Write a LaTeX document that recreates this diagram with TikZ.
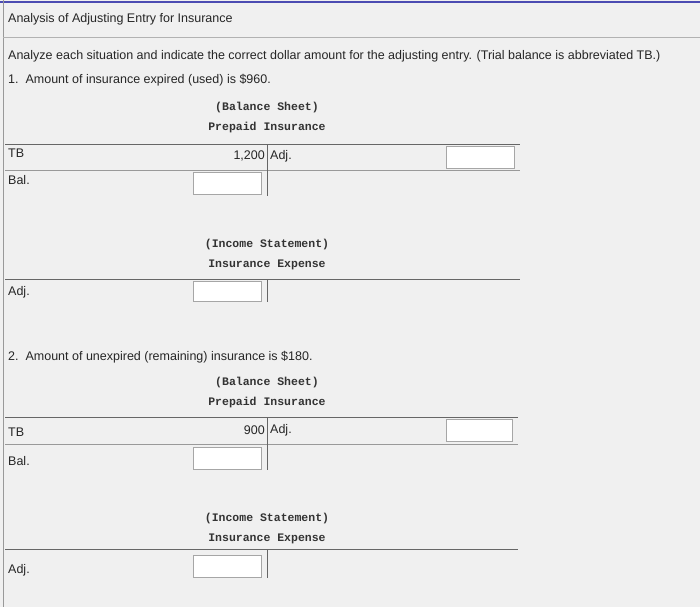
\documentclass[tikz,border=0pt]{standalone}
\usepackage{fontspec}
\setmainfont{Liberation Sans}
\newfontfamily\hdfont{Liberation Mono}
\begin{document}
\begin{tikzpicture}[x=1pt,y=-1pt,
  txt/.style={anchor=west,inner sep=0pt,font=\fontsize{12.5}{14}\selectfont,text=black!85},
  hd/.style={inner sep=0pt,font=\hdfont\bfseries\fontsize{11.5}{13}\selectfont,text=black!80},
  inbox/.style={draw=black!35,fill=white,line width=0.8pt,inner sep=0pt,minimum width=68pt,minimum height=22pt},
  tline/.style={draw=black!60,line width=1pt}]
\fill[gray!12] (0,0) rectangle (700,607);
\useasboundingbox (0,0) rectangle (700,607);
\draw[blue!40!gray,line width=1.5pt] (0,2) -- (700,2);
\draw[black!40,line width=1pt] (3,0) -- (3,607);
\draw[black!30,line width=0.8pt] (3,37) -- (700,37);
\node[txt] (t0) at (8,19) {Analysis of Adjusting Entry for Insurance};
\node[txt] (t1) at (8,56) {Analyze each situation and indicate the correct dollar amount for the adjusting entry. (Trial balance is abbreviated TB.)};
\node[txt] (t2) at (8,80) {1.\ \ Amount of insurance expired (used) is \$960.};
% section 1 balance sheet
\node[hd] (h1) at (267,108) {(Balance Sheet)};
\node[hd] (h2) at (267,128) {Prepaid Insurance};
\draw[tline] (5,144) -- (520,144);
\draw[black!40,line width=0.8pt] (5,170) -- (520,170);
\draw[tline] (267,144) -- (267,196);
\node[txt] (tb1) at (8,153) {TB};
\node[txt,anchor=east] (v1) at (265,156) {1,200};
\node[txt] (a1) at (270,156) {Adj.};
\node[inbox] (b1) at (480,157) {};
\node[txt] (bal1) at (8,180) {Bal.};
\node[inbox] (b2) at (227,183) {};
% income statement 1
\node[hd] (h3) at (267,245) {(Income Statement)};
\node[hd] (h4) at (267,265) {Insurance Expense};
\draw[tline] (5,279) -- (520,279);
\draw[tline] (267,279) -- (267,302);
\node[txt] (a2) at (8,292) {Adj.};
\node[inbox,minimum height=20pt] (b3) at (227,291) {};
% section 2
\node[txt] (t3) at (8,357) {2.\ \ Amount of unexpired (remaining) insurance is \$180.};
\node[hd] (h5) at (267,383) {(Balance Sheet)};
\node[hd] (h6) at (267,403) {Prepaid Insurance};
\draw[tline] (5,417) -- (518,417);
\draw[black!40,line width=0.8pt] (5,444) -- (518,444);
\draw[tline] (267,417) -- (267,470);
\node[txt] (tb2) at (8,432) {TB};
\node[txt,anchor=east] (v2) at (265,430) {900};
\node[txt] (a3) at (270,430) {Adj.};
\node[inbox,minimum width=66pt] (b4) at (479,430) {};
\node[txt] (bal2) at (8,461) {Bal.};
\node[inbox] (b5) at (227,458) {};
\node[hd] (h7) at (267,519) {(Income Statement)};
\node[hd] (h8) at (267,539) {Insurance Expense};
\draw[tline] (5,549) -- (518,549);
\draw[tline] (267,549) -- (267,578);
\node[txt] (a4) at (8,570) {Adj.};
\node[inbox] (b6) at (227,566) {};
\end{tikzpicture}
\end{document}
